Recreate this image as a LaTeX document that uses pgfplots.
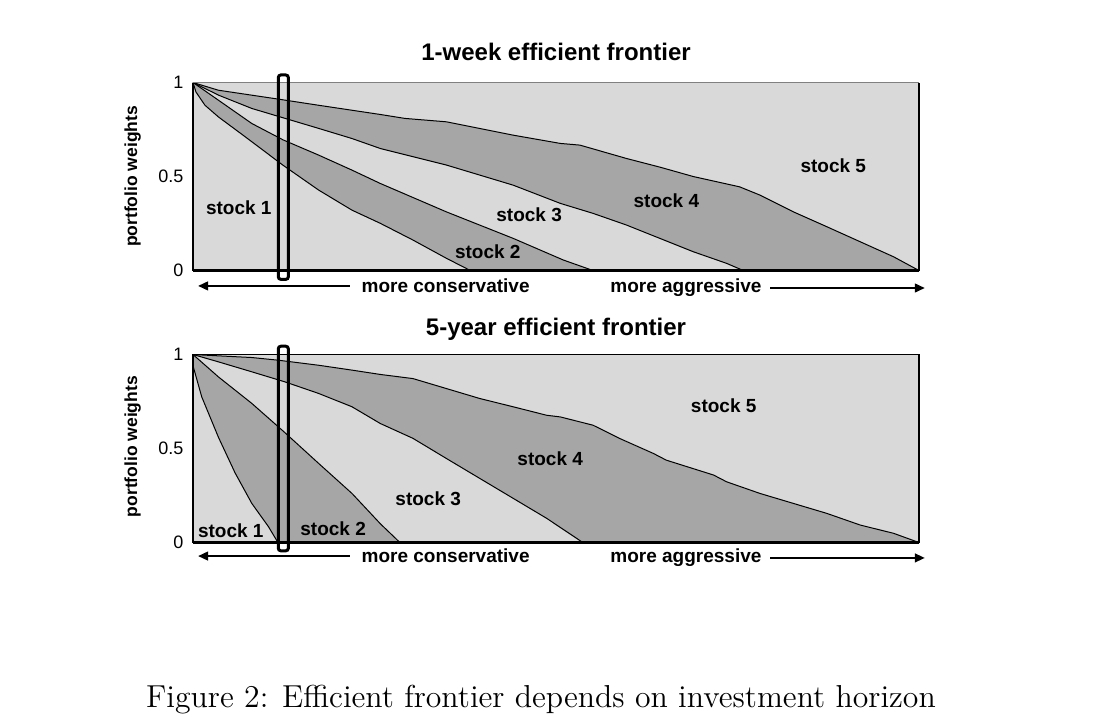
\documentclass[border=0pt]{standalone}
\usepackage{pgfplots}
\pgfplotsset{compat=1.18}
\usepgfplotslibrary{fillbetween}
\usetikzlibrary{arrows.meta}
\usepackage{fontspec}
\newfontfamily\arial{Liberation Sans}
\definecolor{lite}{RGB}{217,217,217}
\definecolor{dark}{RGB}{166,166,166}
\newcommand\titlefont{\arial\bfseries\fontsize{9.6}{11}\selectfont}
\newcommand\labfont{\arial\bfseries\fontsize{7.6}{9}\selectfont}
\newcommand\ylabfont{\arial\bfseries\fontsize{7}{8}\selectfont}
\newcommand\tickfont{\arial\fontsize{7.2}{8}\selectfont}

\pgfplotsset{frontier/.style={
  scale only axis, width=290.4pt, height=75.2pt,
  xmin=0, xmax=1, ymin=0, ymax=1, clip=false,
  xtick=\empty, ytick={0,0.5,1}, yticklabels={0,0.5,1},
  major tick length=0pt,
  yticklabel style={font=\tickfont, inner sep=0pt, xshift=-3.6pt},
  axis line style={draw=none},
  every axis plot/.append style={black, line width=0.4pt},
}}

\begin{document}
\begin{tikzpicture}
\path (0,0) rectangle (443.6pt,-288.4pt);

% ---- 1-week ----
\begin{axis}[frontier, at={(77.2pt,-108.2pt)}, anchor=south west]
\addplot[draw=none, name path=b0] coordinates {(0,0) (1,0)};
\addplot[draw=none, name path=b5] coordinates {(0,1) (1,1)};
\addplot[name path=b1] coordinates {(0,1) (0.004,0.95) (0.0165,0.879) (0.035,0.817) (0.072,0.711) (0.124,0.56) (0.173,0.428) (0.219,0.321) (0.258,0.251) (0.303,0.162) (0.349,0.065) (0.382,0) (1,0)};
\addplot[name path=b2] coordinates {(0,1) (0.035,0.906) (0.081,0.782) (0.124,0.695) (0.173,0.614) (0.219,0.534) (0.258,0.463) (0.349,0.312) (0.441,0.171) (0.510,0.056) (0.551,0) (1,0)};
\addplot[name path=b3] coordinates {(0,1) (0.035,0.933) (0.081,0.862) (0.127,0.809) (0.173,0.756) (0.219,0.702) (0.258,0.649) (0.349,0.561) (0.441,0.454) (0.506,0.357) (0.551,0.304) (0.597,0.242) (0.643,0.171) (0.689,0.1) (0.735,0.038) (0.758,0) (1,0)};
\addplot[name path=b4] coordinates {(0,1) (0.035,0.959) (0.117,0.912) (0.173,0.879) (0.258,0.830) (0.292,0.809) (0.349,0.791) (0.441,0.720) (0.506,0.676) (0.533,0.667) (0.597,0.596) (0.643,0.55) (0.689,0.50) (0.753,0.445) (0.781,0.401) (0.827,0.312) (0.873,0.233) (0.919,0.153) (0.965,0.073) (1,0)};
\addplot[lite, draw=none] fill between[of=b0 and b1];
\addplot[dark, draw=none] fill between[of=b1 and b2];
\addplot[lite, draw=none] fill between[of=b2 and b3];
\addplot[dark, draw=none] fill between[of=b3 and b4];
\addplot[lite, draw=none] fill between[of=b4 and b5];
% frame: grey top edge, heavier base line
\draw[gray, line width=0.5pt] (rel axis cs:0,1) -- (rel axis cs:1,1);
\draw[line width=0.5pt] (rel axis cs:0,1) -- (rel axis cs:0,0) (rel axis cs:1,0) -- (rel axis cs:1,1);
\draw[line width=0.9pt] (rel axis cs:0,0) -- (rel axis cs:1,0);
\draw[line width=1.2pt, rounded corners=1pt] (axis cs:0.1175,1.04) rectangle (axis cs:0.1313,-0.047);
\node[font=\labfont] at (axis cs:0.063,0.332) {stock 1};
\node[font=\labfont] at (axis cs:0.406,0.098) {stock 2};
\node[font=\labfont] at (axis cs:0.463,0.295) {stock 3};
\node[font=\labfont] at (axis cs:0.652,0.369) {stock 4};
\node[font=\labfont] at (axis cs:0.882,0.560) {stock 5};
\node[font=\titlefont] at (rel axis cs:0.5,1.161) {1-week efficient frontier};
\node[font=\ylabfont, rotate=90] at (rel axis cs:-0.083,0.5) {portfolio weights};
\draw[line width=0.8pt, -{Triangle[length=4pt,width=3.5pt]}] (axis cs:0.216,-0.082) -- (axis cs:0.007,-0.082);
\node[font=\labfont] at (axis cs:0.348,-0.082) {more conservative};
\node[font=\labfont] at (axis cs:0.679,-0.093) {more aggressive};
\draw[line width=0.8pt, -{Triangle[length=4pt,width=3.5pt]}] (axis cs:0.795,-0.093) -- (axis cs:1.008,-0.093);
\end{axis}

% ---- 5-year ----
\begin{axis}[frontier, at={(77.2pt,-217pt)}, anchor=south west]
\addplot[draw=none, name path=b0] coordinates {(0,0) (1,0)};
\addplot[draw=none, name path=b5] coordinates {(0,1) (1,1)};
\addplot[name path=b1] coordinates {(0,0.94) (0.012,0.775) (0.035,0.56) (0.058,0.37) (0.081,0.208) (0.104,0.084) (0.117,0) (1,0)};
\addplot[name path=b2] coordinates {(0,1) (0.035,0.881) (0.081,0.74) (0.125,0.59) (0.173,0.421) (0.219,0.261) (0.258,0.10) (0.285,0) (1,0)};
\addplot[name path=b3] coordinates {(0,1) (0.035,0.961) (0.081,0.908) (0.127,0.854) (0.173,0.793) (0.219,0.722) (0.258,0.633) (0.303,0.554) (0.349,0.447) (0.395,0.341) (0.441,0.235) (0.487,0.129) (0.537,0) (1,0)};
\addplot[name path=b4] coordinates {(0,1) (0.035,0.993) (0.081,0.984) (0.117,0.97) (0.173,0.943) (0.219,0.917) (0.258,0.894) (0.303,0.872) (0.349,0.819) (0.395,0.766) (0.441,0.722) (0.487,0.677) (0.506,0.668) (0.551,0.624) (0.588,0.553) (0.634,0.474) (0.652,0.438) (0.717,0.359) (0.735,0.323) (0.781,0.261) (0.827,0.208) (0.873,0.155) (0.919,0.093) (0.965,0.049) (1,0)};
\addplot[lite, draw=none] fill between[of=b0 and b1];
\addplot[dark, draw=none] fill between[of=b1 and b2];
\addplot[lite, draw=none] fill between[of=b2 and b3];
\addplot[dark, draw=none] fill between[of=b3 and b4];
\addplot[lite, draw=none] fill between[of=b4 and b5];
\draw[line width=0.5pt] (rel axis cs:0,0) -- (rel axis cs:0,1) -- (rel axis cs:1,1) -- (rel axis cs:1,0);
\draw[line width=0.9pt] (rel axis cs:0,0) -- (rel axis cs:1,0);
\draw[line width=1.2pt, rounded corners=1pt] (axis cs:0.1175,1.044) rectangle (axis cs:0.1313,-0.044);
\node[font=\labfont] at (axis cs:0.052,0.061) {stock 1};
\node[font=\labfont] at (axis cs:0.193,0.072) {stock 2};
\node[font=\labfont] at (axis cs:0.324,0.231) {stock 3};
\node[font=\labfont] at (axis cs:0.492,0.444) {stock 4};
\node[font=\labfont] at (axis cs:0.731,0.726) {stock 5};
\node[font=\titlefont] at (rel axis cs:0.5,1.134) {5-year efficient frontier};
\node[font=\ylabfont, rotate=90] at (rel axis cs:-0.083,0.51) {portfolio weights};
\draw[line width=0.8pt, -{Triangle[length=4pt,width=3.5pt]}] (axis cs:0.216,-0.072) -- (axis cs:0.007,-0.072);
\node[font=\labfont] at (axis cs:0.348,-0.072) {more conservative};
\node[font=\labfont] at (axis cs:0.679,-0.082) {more aggressive};
\draw[line width=0.8pt, -{Triangle[length=4pt,width=3.5pt]}] (axis cs:0.795,-0.082) -- (axis cs:1.008,-0.082);
\end{axis}

\node[font=\fontsize{12.7}{15}\selectfont] at (216.4pt,-280pt) {Figure 2: Efficient frontier depends on investment horizon};
\end{tikzpicture}
\end{document}
